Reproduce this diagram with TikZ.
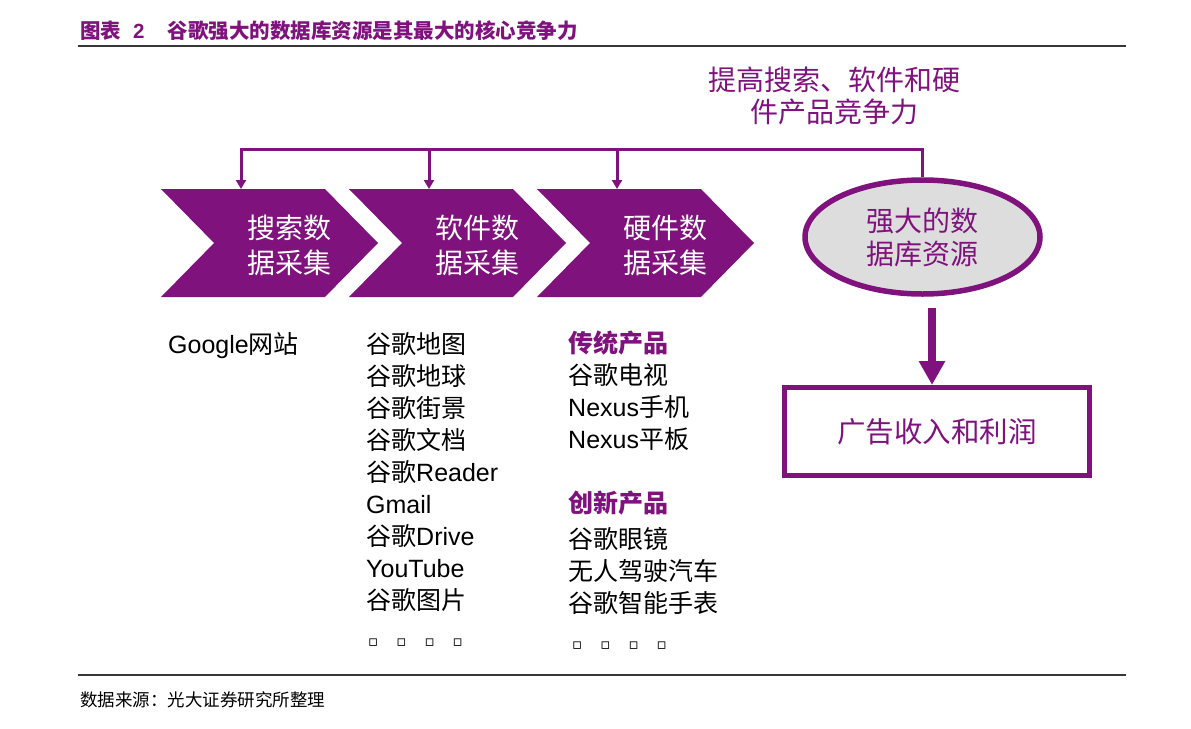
\documentclass[tikz,border=0pt]{standalone}
\usepackage{fontspec}
\setmainfont{Liberation Sans}
\newfontfamily\cjk{Noto Sans CJK SC}
\newfontfamily\symfont{DejaVu Sans}
\usetikzlibrary{arrows.meta,positioning,shapes.geometric,shapes.symbols}
\definecolor{gpurple}{RGB}{128,18,126}
\definecolor{dbgray}{RGB}{221,221,221}
\definecolor{rulegray}{RGB}{55,55,55}
\newcommand{\zh}[1]{{\cjk #1}}
\newcommand{\moredots}{{\symfont\fontsize{15}{18}\selectfont ▫\hspace{18pt}▫\hspace{18pt}▫\hspace{18pt}▫}}

\begin{document}
\begin{tikzpicture}[
            x=1pt, y=-1pt,
            node distance=7.7pt,
            chev/.style={signal, signal from=west, signal to=east,
            signal pointer angle=91, fill=gpurple, draw=none,
            minimum width=217pt, minimum height=108pt,
            inner sep=0pt, outer sep=0pt},
            chevtxt/.style={text=white, align=center, inner sep=0pt,
            font=\cjk\fontsize{28}{35}\selectfont},
            item/.style={text width=190pt, align=left, inner sep=0pt,
            text height=18pt, text depth=6pt,
            font=\fontsize{25}{30}\selectfont},
            head/.style={item, text=gpurple, font=\cjk\bfseries\fontsize{25}{30}\selectfont},
            link/.style={draw=gpurple, line width=3pt, -{Triangle[width=10pt,length=9pt]}},
            bigarr/.style={draw=gpurple, line width=8pt, -{Triangle[width=25pt,length=24pt]}},
            rule/.style={draw=rulegray, line width=2pt}
        ]
            \path[use as bounding box, fill=white] (0,0) rectangle (1191,728);
% title and rules
            \node[anchor=west, inner sep=0pt, text=gpurple,
                  font=\fontsize{20.5}{24}\selectfont\bfseries] (title) at (80,31)
                  {\zh{图表}\hspace{12pt}2\hspace{23pt}\zh{谷歌强大的数据库资源是其最大的核心竞争力}};
            \draw[rule] (78,46) -- (1126,46);
            \draw[rule] (78,675) -- (1126,675);
            \node[anchor=west, inner sep=0pt, font=\cjk\fontsize{17.5}{20}\selectfont] (src) at (80,700)
                  {数据来源：光大证券研究所整理};
% goal text
            \node[text=gpurple, align=center, inner sep=0pt,
                  font=\cjk\fontsize{28}{32}\selectfont] (goal) at (834,96)
                  {提高搜索、软件和硬\\件产品竞争力};
% chevrons
            \node[chev] (s1) at (269.5,243) {};
            \node[chev] (s2) at (457.5,243) {};
            \node[chev] (s3) at (645.5,243) {};
            \node[chevtxt] (t1) at ([xshift=20pt,yshift=-2pt]s1.center) {搜索数\\据采集};
            \node[chevtxt] (t2) at ([xshift=20pt,yshift=-2pt]s2.center) {软件数\\据采集};
            \node[chevtxt] (t3) at ([xshift=20pt,yshift=-2pt]s3.center) {硬件数\\据采集};
% database and revenue
            \node[ellipse, draw=gpurple, line width=5.5pt, fill=dbgray,
                  minimum width=235pt, minimum height=114pt, inner sep=0pt,
                  text=gpurple, align=center,
                  font=\cjk\fontsize{28}{33}\selectfont] (db) at (922.5,237) {强大的数\\据库资源};
            \node[draw=gpurple, line width=5pt, minimum width=305pt, minimum height=88pt,
                  inner sep=0pt, text=gpurple,
                  font=\cjk\fontsize{28.5}{32}\selectfont] (rev) at (937,431.5) {广告收入和利润};
% feedback bus
            \coordinate (bus) at (922.5,149);
            \coordinate (in1) at ([xshift=-28.5pt]s1.north);
            \coordinate (in2) at ([xshift=-28.5pt]s2.north);
            \coordinate (in3) at ([xshift=-28.5pt]s3.north);
            \draw[link] (db.north) -- (bus) -| (in1);
            \draw[link] (in2 |- bus) -- (in2);
            \draw[link] (in3 |- bus) -- (in3);
            \draw[bigarr] ([xshift=9.5pt,yshift=-11pt]db.south) -- ([xshift=-5pt]rev.north);
% search column
            \node[item, anchor=base west] (web) at (168,353) {Google\zh{网站}};
% software column
            \node[item, anchor=base west] (m1) at (366,353) {\zh{谷歌地图}};
            \node[item, below=of m1] (m2) {\zh{谷歌地球}};
            \node[item, below=of m2] (m3) {\zh{谷歌街景}};
            \node[item, below=of m3] (m4) {\zh{谷歌文档}};
            \node[item, below=of m4] (m5) {\zh{谷歌}Reader};
            \node[item, below=of m5] (m6) {Gmail};
            \node[item, below=of m6] (m7) {\zh{谷歌}Drive};
            \node[item, below=of m7] (m8) {YouTube};
            \node[item, below=of m8] (m9) {\zh{谷歌图片}};
            \node[item, below=12pt of m9] (m10) {\hspace{2pt}\moredots};
% hardware column
            \node[head, anchor=base west] (p1) at (568,352) {传统产品};
            \node[item, below=of p1] (p2) {\zh{谷歌电视}};
            \node[item, below=of p2] (p3) {Nexus\zh{手机}};
            \node[item, below=of p3] (p4) {Nexus\zh{平板}};
            \node[head, below=39.4pt of p4] (p5) {创新产品};
            \node[item, below=12pt of p5] (p6) {\zh{谷歌眼镜}};
            \node[item, below=of p6] (p7) {\zh{无人驾驶汽车}};
            \node[item, below=of p7] (p8) {\zh{谷歌智能手表}};
            \node[item, below=12pt of p8] (p9) {\hspace{4pt}\moredots};
        \end{tikzpicture}
\end{document}
